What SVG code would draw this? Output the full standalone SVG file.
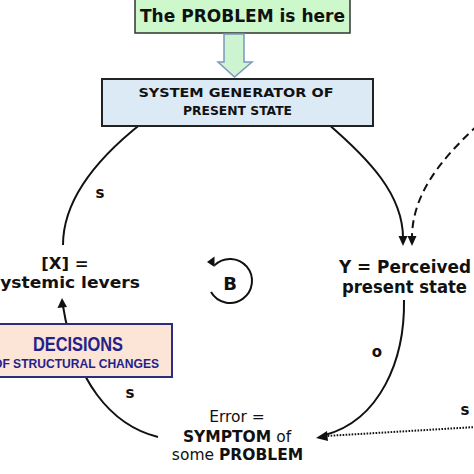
<svg xmlns="http://www.w3.org/2000/svg" width="474" height="474" viewBox="0 0 474 474">
<style>
.b{font-family:"DejaVu Sans",Verdana,sans-serif;font-weight:bold;fill:#111;}
.r{font-family:"DejaVu Sans",Verdana,sans-serif;fill:#111;}
.n{font-family:"Liberation Sans",Arial,sans-serif;font-weight:bold;fill:#22228a;}
.ln{fill:none;stroke:#111;stroke-width:2;}
.ah{fill:#111;stroke:none;}
</style>
<rect width="474" height="474" fill="#fff"/>
<g id="connectors">
<path class="ln" d="M142,123 C95,160 63,200 63,245"/>
<path class="ln" d="M158,437 C110,425 75,380 63,306"/>
<polygon class="ah" points="62,298 57.5,308 67,307"/>
<path class="ln" d="M327,123 C370,160 403,195 403,238"/>
<polygon class="ah" points="403,246 398.5,236 407.5,236"/>
<path class="ln" d="M478,125 C440,160 412,195 412,238" stroke-dasharray="8,5" stroke-width="2.3"/>
<polygon class="ah" points="412,246 407.5,236 416.5,236"/>
<path class="ln" d="M404,300 C405,360 380,420 325,435"/>
<polygon class="ah" points="316,438 327,431 328,441"/>
<path class="ln" d="M476,427 L326,436" stroke-dasharray="1.6,1.4" stroke-width="2"/>
<path class="ln" d="M214.4,265.4 A22,22 0 1 1 211,292" stroke-width="1.8"/>
<polygon class="ah" points="207,262 214.5,256.5 214.5,267"/>
</g>
<g id="problem">
<rect x="135" y="-3" width="215" height="36" fill="#ccf8cc" stroke="#333" stroke-width="1.5"/>
<text class="b" x="242.5" y="22" text-anchor="middle" font-size="17" textLength="205" lengthAdjust="spacingAndGlyphs">The PROBLEM is here</text>
</g>
<g id="block-arrow">
<polygon points="224,34 244,34 244,62 252,62 234.5,77 218,62 224,62" fill="#cdf3d0" stroke="#7a98bd" stroke-width="1.5"/>
</g>
<g id="generator">
<rect x="102" y="79" width="271" height="47" fill="#dbeaf4" stroke="#222" stroke-width="2"/>
<text class="b" x="236" y="97" text-anchor="middle" font-size="13" textLength="195" lengthAdjust="spacingAndGlyphs">SYSTEM GENERATOR OF</text>
<text class="b" x="237.5" y="115" text-anchor="middle" font-size="13" textLength="109" lengthAdjust="spacingAndGlyphs">PRESENT STATE</text>
</g>
<g id="x-node">
<text class="b" x="65" y="269" text-anchor="middle" font-size="16.5">[X] =</text>
<text class="b" x="-10" y="288" font-size="16.5" textLength="150" lengthAdjust="spacingAndGlyphs">systemic levers</text>
</g>
<g id="y-node">
<text class="b" x="405" y="273" text-anchor="middle" font-size="17" textLength="132" lengthAdjust="spacingAndGlyphs">Y = Perceived</text>
<text class="b" x="404.5" y="293" text-anchor="middle" font-size="17" textLength="125" lengthAdjust="spacingAndGlyphs">present state</text>
</g>
<g id="error-node">
<text class="r" x="237" y="422" text-anchor="middle" font-size="15.5">Error =</text>
<text class="r" x="237" y="442" text-anchor="middle" font-size="15.5"><tspan font-weight="bold">SYMPTOM</tspan> of</text>
<text class="r" x="237.5" y="460" text-anchor="middle" font-size="15.5">some  <tspan font-weight="bold">PROBLEM</tspan></text>
</g>
<g id="decisions">
<rect x="-3" y="324" width="175" height="53" fill="#fce4d6" stroke="#2b2b80" stroke-width="2"/>
<text class="n" x="78" y="351" text-anchor="middle" font-size="21" textLength="90" lengthAdjust="spacingAndGlyphs">DECISIONS</text>
<text class="n" x="-7" y="368" font-size="13" textLength="166" lengthAdjust="spacingAndGlyphs">OF STRUCTURAL CHANGES</text>
</g>
<g id="loop">
<text class="b" x="230" y="290" text-anchor="middle" font-size="18">B</text>
</g>
<g id="labels">
<text class="b" x="100" y="198" text-anchor="middle" font-size="15">s</text>
<text class="b" x="130" y="398" text-anchor="middle" font-size="15">s</text>
<text class="b" x="377" y="357" text-anchor="middle" font-size="15">o</text>
<text class="b" x="465" y="415" text-anchor="middle" font-size="15">s</text>
</g>
</svg>
